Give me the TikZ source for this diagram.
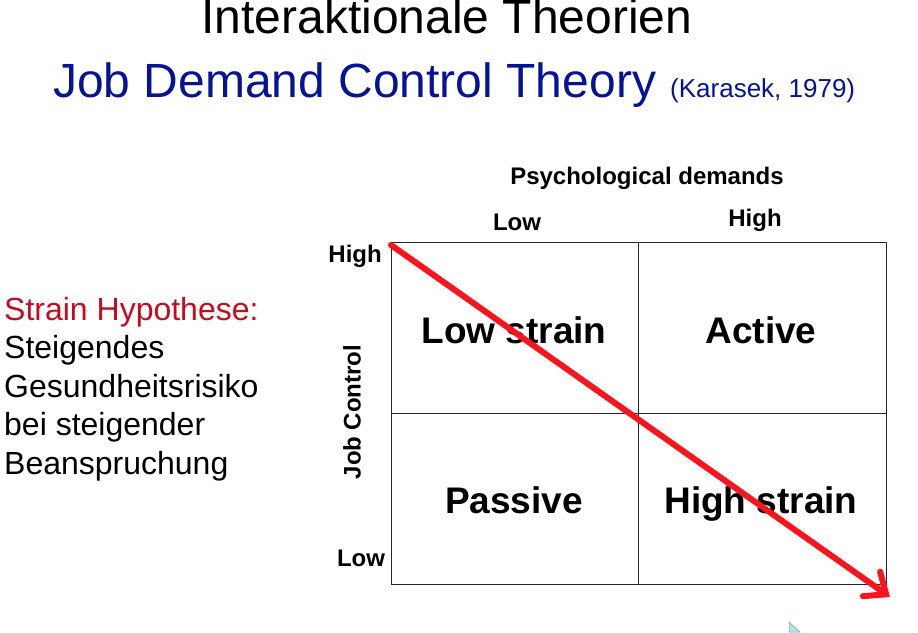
\documentclass[tikz,border=0pt]{standalone}
\usepackage{fontspec}
\setmainfont{Liberation Sans}
\usetikzlibrary{arrows.meta}
\definecolor{titleblue}{RGB}{5,20,150}
\definecolor{hypred}{RGB}{200,10,30}
\definecolor{arrred}{RGB}{250,20,30}
\definecolor{cursorblue}{RGB}{185,222,228}
\begin{document}
\begin{tikzpicture}[x=1pt,y=-1pt,
  title/.style={inner sep=0pt,font=\fontsize{48}{58}\selectfont},
  axislabel/.style={inner sep=0pt,font=\bfseries\fontsize{24}{29}\selectfont},
  celllabel/.style={inner sep=0pt,font=\bfseries\fontsize{37}{44}\selectfont},
  hyptext/.style={inner sep=0pt,anchor=base west,font=\fontsize{32}{38}\selectfont},
  gridline/.style={line width=1pt,draw=black!85},
  strainarrow/.style={draw=arrred,line width=6pt,line cap=round,
    -{Straight Barb[length=18pt,width=30pt,line cap=round]}}]
\useasboundingbox (0,0) rectangle (918,632);
% titles
\node[title,anchor=base] (t1) at (447,33) {Interaktionale Theorien};
\node[title,anchor=base west,text=titleblue] (t2) at (53,97) {Job Demand Control Theory};
\node[inner sep=0pt,anchor=base west,text=titleblue,font=\fontsize{26}{31}\selectfont] (t3) at (670,97) {(Karasek, 1979)};
% hypothesis text
\node[hyptext,text=hypred] (h1) at (4,320) {Strain Hypothese:};
\node[hyptext] (h2) at (4,358.5) {Steigendes};
\node[hyptext] (h3) at (4,397) {Gesundheitsrisiko};
\node[hyptext] (h4) at (4,435.5) {bei steigender};
\node[hyptext] (h5) at (4,474) {Beanspruchung};
% grid
\coordinate (tl) at (391,242);
\coordinate (br) at (886,584);
\draw[gridline] (tl) rectangle (br);
\coordinate (mt) at (638,242);
\coordinate (mb) at (638,584);
\coordinate (ml) at (391,413);
\coordinate (mr) at (886,413);
\draw[gridline] (mt) -- (mb);
\draw[gridline] (ml) -- (mr);
% axis labels
\node[axislabel,anchor=base] (pd) at (647,184) {Psychological demands};
\node[axislabel,anchor=base] (clow) at (517,230) {Low};
\node[axislabel,anchor=base] (chigh) at (755,226) {High};
\node[axislabel,anchor=base east] (rhigh) at (382,262) {High};
\node[axislabel,anchor=base] (rlow) at (361,566) {Low};
\node[axislabel,rotate=90,anchor=center] (jc) at (352,412) {Job Control};
% cell labels
\node[celllabel,anchor=base] (c1) at (514,343) {Low strain};
\node[celllabel,anchor=base] (c2) at (761,343) {Active};
\node[celllabel,anchor=base] (c3) at (514,513) {Passive};
\node[celllabel,anchor=base] (c4) at (761,513) {High strain};
% arrow
\coordinate (as) at (391,245);
\coordinate (ae) at (890,597);
\draw[strainarrow] (as) -- (ae);
% cursor artifact
\fill[cursorblue,draw=cursorblue!70!black,line width=0.5pt] (789,622) -- (800,632) -- (789,632) -- cycle;
\end{tikzpicture}
\end{document}
